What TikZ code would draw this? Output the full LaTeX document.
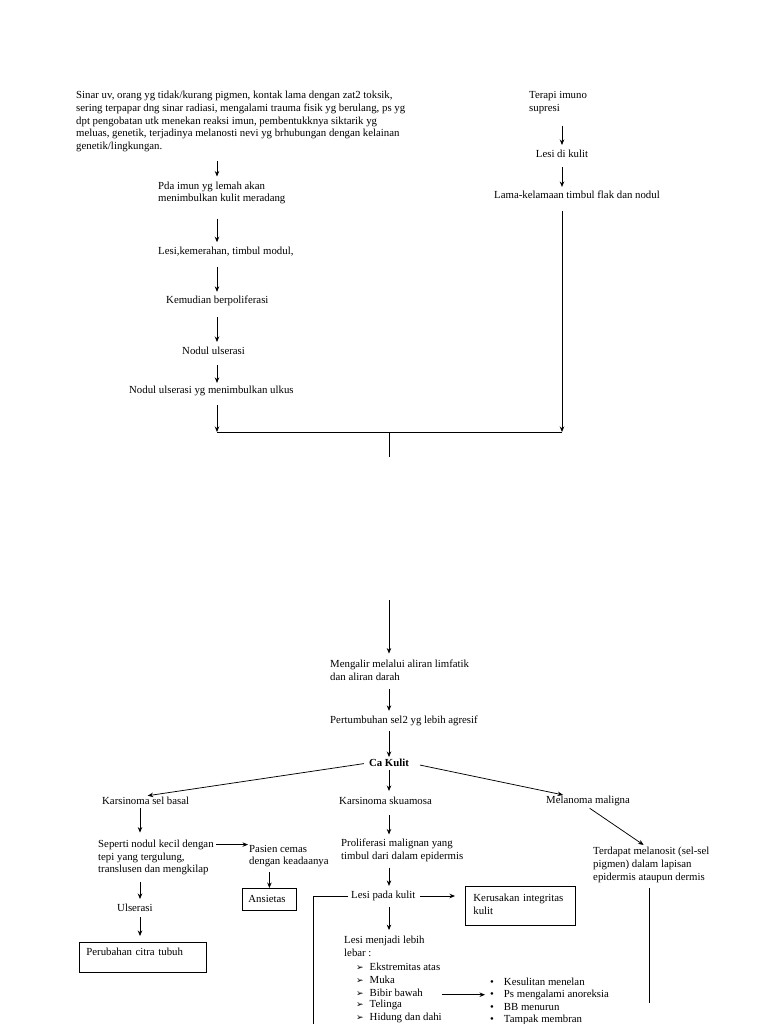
\documentclass[tikz,border=0pt]{standalone}
\usepackage{fontspec}
\setmainfont{Liberation Serif}
\newfontfamily\symfont{DejaVu Sans}
\usetikzlibrary{arrows.meta}

\begin{document}
\begin{tikzpicture}[x=1pt,y=-1pt,
  txt/.style={font=\fontsize{10.8}{12.8}\selectfont, inner sep=1pt, align=left, anchor=west},
  bx/.style={txt, draw, line width=0.8pt, anchor=north west, inner ysep=0pt},
  flow/.style={-{Stealth[length=5.5pt,width=4.5pt]}, line width=0.75pt, shorten <=6pt, shorten >=4pt},
  wire/.style={line width=0.75pt}]
  \fill[white] (0,0) rectangle (768,1024);
  \useasboundingbox (0,0) rectangle (768,1024);

  \coordinate (lx) at (217,0);
  \coordinate (rx) at (562,0);
  \coordinate (mx) at (389,0);
  \coordinate (bx) at (140,0);
  \coordinate (tdx) at (649,0);

  % upper left column
  \node[txt] (cause) at (75,121.5) {Sinar uv, orang yg tidak/kurang pigmen, kontak lama dengan zat2 toksik,\\sering terpapar dng sinar radiasi, mengalami trauma fisik yg berulang, ps yg\\dpt pengobatan utk menekan reaksi imun, pembentukknya siktarik yg\\meluas, genetik, terjadinya melanosti nevi yg brhubungan dengan kelainan\\genetik/lingkungan.};
  \node[txt] (imun) at (157,193) {Pda imun yg lemah akan\\menimbulkan kulit meradang};
  \node[txt] (lesi) at (157,252) {Lesi,kemerahan, timbul modul,};
  \node[txt] (prol) at (165,301) {Kemudian berpoliferasi};
  \node[txt] (nodul) at (181,351) {Nodul ulserasi};
  \node[txt] (ulkus) at (128,391) {Nodul ulserasi yg menimbulkan ulkus};

  % upper right column
  \node[txt] (terapi) at (528,102.5) {Terapi imuno\\supresi};
  \node[txt, anchor=center] (lesidi) at (562,154) {Lesi di kulit};
  \node[txt] (lama) at (493,195) {Lama-kelamaan timbul flak dan nodul};

  \draw[flow, shorten <=8pt] (cause.south -| lx) -- (imun.north -| lx);
  \draw[flow, shorten <=13pt] (imun.south -| lx) -- (lesi.north -| lx);
  \draw[flow, shorten <=9pt, shorten >=3pt] (lesi.south -| lx) -- (prol.north -| lx);
  \draw[flow, shorten <=10pt] (prol.south -| lx) -- (nodul.north -| lx);
  \draw[flow, shorten <=9pt, shorten >=2pt] (nodul.south -| lx) -- (ulkus.north -| lx);
  \draw[flow, shorten <=11pt] (terapi.south -| rx) -- (lesidi.north -| rx);
  \draw[flow, shorten <=8pt, shorten >=3pt] (lesidi.south -| rx) -- (lama.north -| rx);

  % junction
  \coordinate (j1) at (217,432);
  \coordinate (j2) at (562,432);
  \coordinate (jm) at (389,432);
  \coordinate (jb) at (389,457);
  \draw[flow, shorten <=8pt, shorten >=0pt] (ulkus.south -| lx) -- (j1);
  \draw[flow, shorten <=11pt, shorten >=0pt] (lama.south -| rx) -- (j2);
  \draw[wire] (j1) -- (j2);
  \draw[wire] (jm) -- (jb);

  % lower part
  \coordinate (ja) at (389,600);
  \node[txt] (alir) at (329,670) {Mengalir melalui aliran limfatik\\dan aliran darah};
  \node[txt] (agr) at (329,721) {Pertumbuhan sel2 yg lebih agresif};
  \node[txt, anchor=center, font=\fontsize{10.8}{12.8}\selectfont\bfseries] (ca) at (389,763) {Ca Kulit};
  \node[txt] (ksb) at (101,801) {Karsinoma sel basal};
  \node[txt] (ksk) at (338,801) {Karsinoma skuamosa};
  \node[txt] (mm) at (545,801) {Melanoma maligna};

  \draw[flow, shorten <=0pt, shorten >=5pt] (ja) -- (alir.north -| mx);
  \draw[flow, shorten <=8pt] (alir.south -| mx) -- (agr.north -| mx);
  \draw[flow, shorten <=4pt, shorten >=1pt] (agr.south -| mx) -- (ca.north -| mx);
  \draw[flow, shorten <=2pt, shorten >=5pt] (ca.south -| mx) -- (ksk.north -| mx);
  \draw[flow, shorten <=4pt, shorten >=2pt] (ca.west) -- (ksb.north);
  \draw[flow, shorten <=10pt, shorten >=0pt] (ca.east) -- ([xshift=18pt]mm.north west);

  % karsinoma sel basal
  \node[txt] (sep) at (97,857.5) {Seperti nodul kecil dengan\\tepi yang tergulung,\\translusen dan mengkilap};
  \node[txt] (pas) at (248,856) {Pasien cemas\\dengan keadaanya};
  \node[bx, text width=42pt, inner xsep=6pt, text height=14pt, text depth=8pt] (ans) at (242,888) {Ansietas};
  \node[txt] (ulser) at (116,908) {Ulserasi};
  \node[bx, text width=113pt, inner xsep=7pt, text height=13pt, text depth=17pt] (citra) at (79,942) {Perubahan citra tubuh};

  \draw[flow, shorten <=2pt, shorten >=6pt] (ksb.south -| bx) -- (sep.north -| bx);
  \draw[flow, shorten <=1pt, shorten >=0pt] ([yshift=-6pt]sep.north east) -- ([yshift=-6pt]sep.north east -| pas.west);
  \draw[flow, shorten <=4pt, shorten >=0pt] (pas.south -| ans.north) -- (ans.north);
  \draw[flow] (sep.south -| bx) -- (ulser.north -| bx);
  \draw[flow, shorten <=4pt, shorten >=6pt] (ulser.south -| bx) -- (citra.north -| bx);

  % karsinoma skuamosa
  \node[txt] (malig) at (340,850) {Proliferasi malignan yang\\timbul dari dalam epidermis};
  \node[txt] (lpk) at (350,896) {Lesi pada kulit};
  \node[bx, text width=94pt, inner xsep=8pt, text height=15pt, text depth=24pt] (integ) at (465,886) {Kerusakan integritas\\kulit};
  \node[txt] (lebar) at (343,946.5) {Lesi menjadi lebih\\lebar :};

  \draw[flow, shorten <=9pt, shorten >=3pt] (ksk.south -| mx) -- (malig.north -| mx);
  \draw[flow, shorten <=5pt] (malig.south -| mx) -- (lpk.north -| mx);
  \draw[flow, shorten <=3pt, shorten >=10pt] (lpk.east) -- (integ.west |- lpk.east);
  \draw[flow, shorten <=5pt, shorten >=5pt] (lpk.south -| mx) -- (lebar.north -| mx);
  \coordinate (lvend) at (313,1030);
  \draw[wire, shorten <=2pt] (lpk.west) -- (lpk.west -| lvend) -- (lvend);

  \foreach \name/\y/\t in {ek/967/Ekstremitas atas, mu/979.7/Muka, bb/992.4/Bibir bawah, te/1005.1/Telinga, hd/1017.8/Hidung dan dahi}
    \node[txt] (\name) at (355,\y) {{\symfont\fontsize{9}{10}\selectfont ➢}\hspace{6pt}\t};

  \foreach \name/\y/\t in {sul/982/Kesulitan menelan, anor/994.7/Ps mengalami anoreksia, bbm/1007.4/BB menurun, tam/1020.1/Tampak membran}
    \node[txt] (\name) at (489,\y) {•\hspace{10pt}\t};

  \draw[flow, shorten <=18pt, shorten >=4pt] (anor.west -| bb.east) -- (anor.west);

  % melanoma maligna
  \node[txt] (td) at (592,865) {Terdapat melanosit (sel-sel\\pigmen) dalam lapisan\\epidermis ataupun dermis};
  \draw[flow, shorten <=2pt, shorten >=2pt] (mm.south) -- ([xshift=-6pt]td.north);
  \coordinate (tdend) at (649,1003);
  \draw[wire, shorten <=4pt] (td.south -| tdx) -- (tdend);
\end{tikzpicture}
\end{document}
